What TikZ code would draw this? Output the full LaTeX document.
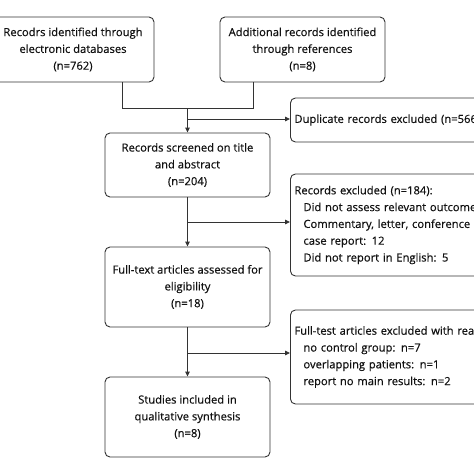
\documentclass[tikz,border=0pt]{standalone}
\usepackage{fontspec}
\setmainfont{Open Sans}[FakeBold=0.5]
\usetikzlibrary{arrows.meta}
\definecolor{linecol}{HTML}{333333}
\definecolor{textcol}{HTML}{111111}
\begin{document}
\begin{tikzpicture}[x=1pt,y=-1pt,
  box/.style={draw=linecol, line width=0.9pt, rounded corners=5pt, align=center,
    font=\fontsize{11.2}{16.8}\selectfont, text=textcol, inner sep=0pt},
  sidebox/.style={box, align=left, anchor=west, inner xsep=4pt, text width=240pt, minimum width=248pt},
  arr/.style={draw=linecol, line width=0.9pt, -{Triangle[length=5pt,width=4.5pt]}},
  ln/.style={draw=linecol, line width=0.9pt}]
\useasboundingbox (0,0) rectangle (474,474);
\fill[white] (0,0) rectangle (474,474);
\clip (0,0) rectangle (474,474);
\node[box, minimum width=162pt, minimum height=65pt] (L) at (73,49.5)
  {Recodrs identified through\\electronic databases\\(n=762)};
\node[box, minimum width=165pt, minimum height=65pt] (R) at (302.5,49.5)
  {Additional records identified\\through references\\(n=8)};
\node[box, minimum width=165pt, minimum height=64pt] (S) at (187.5,165)
  {Records screened on title\\and abstract\\(n=204)};
\node[box, minimum width=165pt, minimum height=80pt] (F) at (187.5,287)
  {Full-text articles assessed for\\eligibility\\(n=18)};
\node[box, minimum width=165pt, minimum height=80pt] (St) at (187.5,417)
  {Studies included in\\qualitative synthesis\\(n=8)};
\node[sidebox, minimum height=44pt] (D) at (290,120)
  {Duplicate records excluded (n=566)};
\node[sidebox, minimum height=102pt] (E) at (290,225)
  {Records excluded (n=184):\\
   \hspace*{9pt}Did not assess relevant outcomes\\
   \hspace*{9pt}Commentary, letter, conference\\
   \hspace*{9pt}case report: 12\\
   \hspace*{9pt}Did not report in English: 5};
\node[sidebox, minimum height=94pt] (X) at (290,357)
  {Full-test articles excluded with reasons:\\
   \hspace*{9pt}no control group: n=7\\
   \hspace*{9pt}overlapping patients: n=1\\
   \hspace*{9pt}report no main results: n=2};
\coordinate (lx) at (122,0);
\coordinate (rx) at (253,0);
\coordinate (j1) at (187.5,108);
\coordinate (b1) at (187.5,119);
\coordinate (b2) at (187.5,222);
\coordinate (b3) at (187.5,353);
\draw[ln] (L.south -| lx) -- (lx |- j1) -- (rx |- j1) -- (R.south -| rx);
\draw[arr] (j1) -- (S.north);
\draw[arr] (b1) -- (b1 -| D.west);
\draw[arr] (S.south) -- (F.north);
\draw[arr] (b2) -- (b2 -| E.west);
\draw[arr] (F.south) -- (St.north);
\draw[arr] (b3) -- (b3 -| X.west);
\end{tikzpicture}
\end{document}
